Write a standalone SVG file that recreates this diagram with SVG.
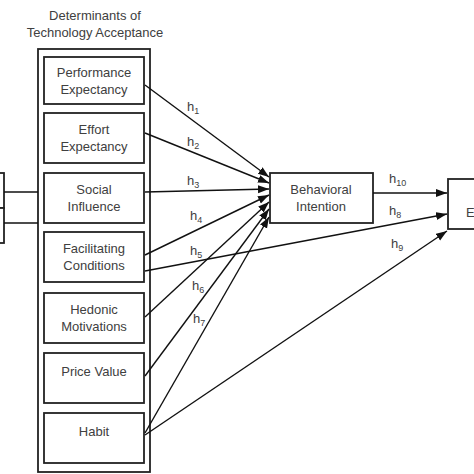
<svg xmlns="http://www.w3.org/2000/svg" width="474" height="474" viewBox="0 0 474 474">
<style>
.box{fill:#fff;stroke:#222;stroke-width:1.8}
.t{font-family:"Liberation Sans",Arial,sans-serif;font-size:13px;fill:#404040;text-anchor:middle}
.lbl{font-family:"Liberation Sans",Arial,sans-serif;font-size:13px;fill:#404040}
.sub{font-size:9px}
.ln{stroke:#111;stroke-width:1.4;fill:none}
</style>
<defs>
<marker id="ah" markerUnits="userSpaceOnUse" markerWidth="12" markerHeight="10" refX="11" refY="4" orient="auto">
<path d="M0,0 L11,4 L0,8 Z" fill="#111"/>
</marker>
</defs>
<rect width="474" height="474" fill="#fff"/>
<g id="title">
<text class="t" x="95" y="20">Determinants of</text>
<text class="t" x="95" y="37">Technology Acceptance</text>
</g>
<g id="left-node">
<rect class="box" x="-60" y="173" width="64" height="35"/>
<rect class="box" x="-60" y="208" width="64" height="35"/>
</g>
<g id="determinants">
<rect class="box" x="38" y="49" width="112" height="423"/>
</g>
<g id="performance">
<rect class="box" x="44" y="57" width="100" height="47"/>
<text class="t" x="94" y="77">Performance</text>
<text class="t" x="94" y="94">Expectancy</text>
</g>
<g id="effort">
<rect class="box" x="44" y="113" width="100" height="50"/>
<text class="t" x="94" y="134">Effort</text>
<text class="t" x="94" y="151">Expectancy</text>
</g>
<g id="social">
<rect class="box" x="44" y="173" width="100" height="50"/>
<text class="t" x="94" y="194">Social</text>
<text class="t" x="94" y="211">Influence</text>
</g>
<g id="facilitating">
<rect class="box" x="44" y="232" width="100" height="50"/>
<text class="t" x="94" y="253">Facilitating</text>
<text class="t" x="94" y="270">Conditions</text>
</g>
<g id="hedonic">
<rect class="box" x="44" y="293" width="100" height="50"/>
<text class="t" x="94" y="314">Hedonic</text>
<text class="t" x="94" y="331">Motivations</text>
</g>
<g id="price">
<rect class="box" x="44" y="353" width="100" height="50"/>
<text class="t" x="94" y="376">Price Value</text>
</g>
<g id="habit">
<rect class="box" x="44" y="413" width="100" height="50"/>
<text class="t" x="94" y="436">Habit</text>
</g>
<g id="behavioral-intention">
<rect class="box" x="270" y="173" width="103" height="50"/>
<text class="t" x="321" y="194">Behavioral</text>
<text class="t" x="321" y="211">Intention</text>
</g>
<g id="right-node">
<rect class="box" x="448" y="179" width="60" height="50"/>
<text class="lbl" x="466" y="217">E</text>
</g>
<g id="connectors">
<line class="ln" x1="4" y1="192" x2="38" y2="192"/>
<line class="ln" x1="4" y1="223" x2="38" y2="223"/>
<line class="ln" x1="145" y1="85" x2="269" y2="177" marker-end="url(#ah)"/>
<line class="ln" x1="145" y1="133" x2="269" y2="183" marker-end="url(#ah)"/>
<line class="ln" x1="145" y1="192" x2="269" y2="189" marker-end="url(#ah)"/>
<line class="ln" x1="145" y1="255" x2="269" y2="195" marker-end="url(#ah)"/>
<line class="ln" x1="145" y1="317" x2="269" y2="202" marker-end="url(#ah)"/>
<line class="ln" x1="145" y1="376" x2="269" y2="209" marker-end="url(#ah)"/>
<line class="ln" x1="145" y1="433" x2="269" y2="217" marker-end="url(#ah)"/>
<line class="ln" x1="373" y1="193" x2="447" y2="193" marker-end="url(#ah)"/>
<line class="ln" x1="145" y1="271" x2="447" y2="214" marker-end="url(#ah)"/>
<line class="ln" x1="145" y1="435" x2="447" y2="231" marker-end="url(#ah)"/>
</g>
<g id="labels">
<text class="lbl" x="187" y="111">h<tspan class="sub" dy="3">1</tspan></text>
<text class="lbl" x="187" y="146">h<tspan class="sub" dy="3">2</tspan></text>
<text class="lbl" x="187" y="185">h<tspan class="sub" dy="3">3</tspan></text>
<text class="lbl" x="190" y="220">h<tspan class="sub" dy="3">4</tspan></text>
<text class="lbl" x="190" y="255">h<tspan class="sub" dy="3">5</tspan></text>
<text class="lbl" x="192" y="290">h<tspan class="sub" dy="3">6</tspan></text>
<text class="lbl" x="193" y="323">h<tspan class="sub" dy="3">7</tspan></text>
<text class="lbl" x="389" y="183">h<tspan class="sub" dy="3">10</tspan></text>
<text class="lbl" x="389" y="215">h<tspan class="sub" dy="3">8</tspan></text>
<text class="lbl" x="391" y="248">h<tspan class="sub" dy="3">9</tspan></text>
</g>
</svg>
